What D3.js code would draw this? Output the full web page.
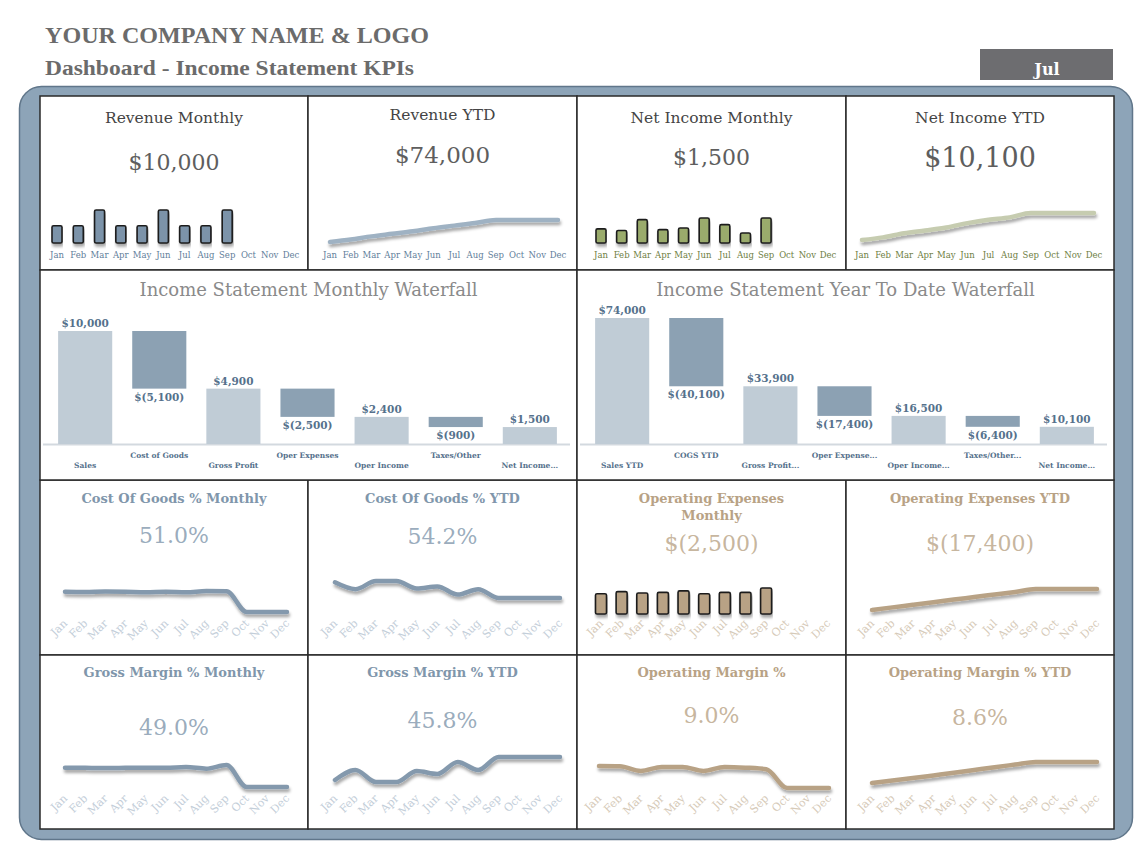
<!DOCTYPE html>
<html>
<head>
<meta charset="utf-8">
<script src="https://cdn.jsdelivr.net/npm/d3@7"></script>
<style>
  body { margin: 0; background: #fff; }
  text { font-family: "DejaVu Serif", serif; }
  .hdr { font-family: "Liberation Serif", serif; font-weight: bold; fill: #6b6b6b; }
</style>
</head>
<body>
<div id="dash"></div>
<script>
// months and series
var months = ["Jan","Feb","Mar","Apr","May","Jun","Jul","Aug","Sep","Oct","Nov","Dec"];

var revenueMonthly   = [10000,10000,12000,10000,10000,12000,10000,10000,12000,null,null,null];
var revenueYtd       = [10000,20000,32000,42000,52000,64000,74000,84000,96000,96000,96000,96000];
var netIncomeMonthly = [1250,1150,1800,1200,1300,1900,1500,1000,1900,null,null,null];
var netIncomeYtd     = [1250,2400,4200,5400,6700,8600,10100,11100,13000,13000,13000,13000];

var cogsPctMonthly   = [52.5,52,53,52.5,51.5,52.5,51,54.5,54,0,0,0];
var cogsPctYtd       = [56.0,55.0,56.2,56.2,55.1,55.4,54.2,55.0,53.7,53.7,53.7,53.7];
var opexMonthly      = [2400,2550,2450,2500,2600,2400,2500,2500,2800,null,null,null];
var opexYtd          = [2400,4950,7400,9900,12500,14900,17400,19900,22700,22700,22700,22700];

var grossPctMonthly  = [47.5,47,46.5,47,47.5,47,49,45,54,0,0,0];
var grossPctYtd      = [44.0,45.0,43.8,43.8,44.9,44.6,45.8,45.0,46.3,46.3,46.3,46.3];
var opMarginMonthly  = [9.4,9.3,7.3,9.0,9.0,7.3,9.0,8.7,8.0,0,0,0];
var opMarginYtd      = [1.3,2.5,3.6,4.8,6.0,7.3,8.6,9.8,11.0,11.0,11.0,11.0];

// waterfalls
var wfMonthCats = ["Sales","Cost of Goods","Gross Profit","Oper Expenses","Oper Income","Taxes/Other","Net Income..."];
var wfMonthVals = [10000,-5100,4900,-2500,2400,-900,1500];
var wfYtdCats   = ["Sales YTD","COGS YTD","Gross Profit...","Oper Expense...","Oper Income...","Taxes/Other...","Net Income..."];
var wfYtdVals   = [74000,-40100,33900,-17400,16500,-6400,10100];
var wfIsTotal   = [true,false,true,false,true,false,true];

// grid
var colX = [40, 308, 577, 846, 1114];
var rowY = [96, 270, 480, 655, 829];

var blueDark = "#7b93a9", blueTick = "#5f7e9a", blueLine = "#8499ad", blueLight = "#9fb2c3";
var tan = "#b8a285", tanLight = "#d6cab8", olive = "#9aab6c", oliveTick = "#6e7e3f";

var svg = d3.select("#dash").append("svg")
  .attr("width", 1140)
  .attr("height", 847);

var defs = svg.append("defs");
var sh = defs.append("filter").attr("id", "shadow")
  .attr("x", "-10%").attr("y", "-60%").attr("width", "120%").attr("height", "260%");
sh.append("feDropShadow").attr("dx", 1).attr("dy", 3).attr("stdDeviation", 1.6)
  .attr("flood-color", "#000").attr("flood-opacity", 0.35);

// header
svg.append("text").attr("class", "hdr").attr("x", 45).attr("y", 43)
  .attr("font-size", 23).attr("textLength", 384).attr("lengthAdjust", "spacingAndGlyphs")
  .text("YOUR COMPANY NAME & LOGO");
svg.append("text").attr("class", "hdr").attr("x", 45).attr("y", 75)
  .attr("font-size", 20).attr("textLength", 369).attr("lengthAdjust", "spacingAndGlyphs")
  .text("Dashboard - Income Statement KPIs");

svg.append("rect").attr("x", 980).attr("y", 49).attr("width", 133).attr("height", 31)
  .attr("fill", "#6d6d70");
svg.append("text").attr("x", 1047).attr("y", 75).attr("text-anchor", "middle")
  .attr("font-family", "Liberation Serif").attr("font-weight", "bold")
  .attr("font-size", 16).attr("fill", "#fff").text("Jul");

// frame
svg.append("rect")
  .attr("x", 19.5).attr("y", 86.5).attr("width", 1113).attr("height", 753).attr("rx", 22)
  .attr("fill", "#8da4b8").attr("stroke", "#60768a").attr("stroke-width", 1.5);

// small panels
var panels = [
  {col:0,row:0,title:["Revenue Monthly"],value:"$10,000",kind:"bar",data:revenueMonthly,domain:[7800,12000],band:[147,114],xr:[17,251],fill:blueDark,tick:blueTick,titleY:27,valueY:74,valueSize:22},
  {col:1,row:0,title:["Revenue YTD"],value:"$74,000",kind:"line",data:revenueYtd,band:[146,124],xr:[22,250],stroke:blueLight,tick:blueTick,titleY:24,valueY:67,valueSize:23},
  {col:2,row:0,title:["Net Income Monthly"],value:"$1,500",kind:"bar",data:netIncomeMonthly,domain:[400,1900],band:[147,122],xr:[24,251],fill:olive,tick:oliveTick,titleY:27,valueY:69,valueSize:22},
  {col:3,row:0,title:["Net Income YTD"],value:"$10,100",kind:"line",data:netIncomeYtd,band:[144,117],xr:[16,248],stroke:"#c6ccb0",tick:oliveTick,titleY:27,valueY:71,valueSize:27},

  {col:0,row:2,title:["Cost Of Goods % Monthly"],value:"51.0%",kind:"line",data:cogsPctMonthly,zero:true,band:[132,111],xr:[25,247],stroke:blueLine,tick:"#c3ced9",color:"#8096ab",titleY:23,valueY:63},
  {col:1,row:2,title:["Cost Of Goods % YTD"],value:"54.2%",kind:"line",data:cogsPctYtd,band:[118,101],xr:[27,252],stroke:blueLine,tick:"#c3ced9",color:"#8096ab",titleY:23,valueY:64},
  {col:2,row:2,title:["Operating Expenses","Monthly"],value:"$(2,500)",kind:"bar",data:opexMonthly,domain:[1000,2800],band:[134,108],xr:[24,251],fill:tan,tick:tanLight,color:tan,titleY:23,valueY:71,barW:11},
  {col:3,row:2,title:["Operating Expenses YTD"],value:"$(17,400)",kind:"line",data:opexYtd,band:[130,109],xr:[26,251],stroke:tan,tick:tanLight,color:tan,titleY:23,valueY:71},

  {col:0,row:3,title:["Gross Margin % Monthly"],value:"49.0%",kind:"line",data:grossPctMonthly,zero:true,band:[132,110],xr:[25,247],stroke:blueLine,tick:"#c3ced9",color:"#8096ab",titleY:22,valueY:80},
  {col:1,row:3,title:["Gross Margin % YTD"],value:"45.8%",kind:"line",data:grossPctYtd,band:[127,102],xr:[27,252],stroke:blueLine,tick:"#c3ced9",color:"#8096ab",titleY:22,valueY:73},
  {col:2,row:3,title:["Operating Margin %"],value:"9.0%",kind:"line",data:opMarginMonthly,zero:true,band:[133,111],xr:[22,252],stroke:tan,tick:tanLight,color:tan,titleY:22,valueY:68},
  {col:3,row:3,title:["Operating Margin % YTD"],value:"8.6%",kind:"line",data:opMarginYtd,band:[128,107],xr:[26,251],stroke:tan,tick:tanLight,color:tan,titleY:22,valueY:70}
];

function drawPanel(p) {
  var x0 = colX[p.col], y0 = rowY[p.row];
  var w = colX[p.col + 1] - x0, h = rowY[p.row + 1] - y0;
  var g = svg.append("g").attr("transform", "translate(" + x0 + "," + y0 + ")");
  g.append("rect").attr("width", w).attr("height", h)
    .attr("fill", "#fff").attr("stroke", "#2a2a2a").attr("stroke-width", 1.5);

  var top = p.row == 0;
  var t = g.append("text").attr("text-anchor", "middle")
    .attr("font-size", top ? 15.5 : 13)
    .attr("font-weight", top ? "normal" : "bold")
    .attr("fill", top ? "#444" : p.color);
  p.title.forEach(function(s, i) {
    t.append("tspan").attr("x", w / 2).attr("y", p.titleY + i * 17).text(s);
  });
  g.append("text").attr("text-anchor", "middle").attr("x", w / 2).attr("y", p.valueY)
    .attr("font-size", p.valueSize || 22)
    .attr("fill", top ? "#5e5e5e" : p.color).attr("fill-opacity", top ? 1 : 0.8)
    .text(p.value);

  var xScale = d3.scalePoint().domain(months).range(p.xr);
  var vals = p.data.filter(function(d) { return d != null; });
  var dom = p.domain || (p.zero ? [0, d3.max(vals)] : d3.extent(vals));
  var yScale = d3.scaleLinear().domain(dom).range(p.band);

  if (p.kind == "bar") {
    var bw = p.barW || 10;
    g.selectAll("rect.spark").data(months.filter(function(m, i) { return p.data[i] != null; }))
      .enter().append("rect").attr("class", "spark")
      .attr("x", function(m) { return xScale(m) - bw / 2; })
      .attr("y", function(m) { return yScale(p.data[months.indexOf(m)]); })
      .attr("width", bw)
      .attr("height", function(m) { return p.band[0] - yScale(p.data[months.indexOf(m)]); })
      .attr("rx", 1.5)
      .attr("fill", p.fill).attr("stroke", "#1e1e1e").attr("stroke-width", 1.6)
      .attr("filter", "url(#shadow)");
  } else {
    var line = d3.line()
      .x(function(d, i) { return xScale(months[i]); })
      .y(function(d) { return yScale(d); })
      .curve(d3.curveMonotoneX);
    g.append("path").datum(p.data).attr("d", line)
      .attr("fill", "none").attr("stroke", p.stroke).attr("stroke-width", 4.5)
      .attr("stroke-linecap", "round").attr("filter", "url(#shadow)");
  }

  if (top) {
    g.selectAll("text.mo").data(months).enter().append("text").attr("class", "mo")
      .attr("x", function(m) { return xScale(m); }).attr("y", 162)
      .attr("text-anchor", "middle").attr("font-size", 8.5).attr("fill", p.tick)
      .text(function(m) { return m; });
  } else {
    g.selectAll("text.mo").data(months).enter().append("text").attr("class", "mo")
      .attr("transform", function(m) { return "translate(" + (xScale(m) + 3) + "," + 144 + ")rotate(-45)"; })
      .attr("text-anchor", "end").attr("font-size", 11).attr("fill", p.tick)
      .text(function(m) { return m; });
  }
}
panels.forEach(drawPanel);

// waterfalls
var fmtNum = d3.format(",");
function money(v) { return v < 0 ? "$(" + fmtNum(-v) + ")" : "$" + fmtNum(v); }

function drawWaterfall(col0, col1, title, cats, vals, topY) {
  var x0 = colX[col0], y0 = rowY[1];
  var w = colX[col1] - x0, h = rowY[2] - y0;
  var g = svg.append("g").attr("transform", "translate(" + x0 + "," + y0 + ")");
  g.append("rect").attr("width", w).attr("height", h)
    .attr("fill", "#fff").attr("stroke", "#2a2a2a").attr("stroke-width", 1.5);
  g.append("text").attr("x", w / 2).attr("y", 26).attr("text-anchor", "middle")
    .attr("font-size", 18).attr("fill", "#8a8a8a").text(title);

  var xScale = d3.scaleBand().domain(cats).range([7, 528]).paddingInner(0.27).paddingOuter(0.15);
  var yScale = d3.scaleLinear().domain([0, vals[0]]).range([174, topY]);

  var run = 0;
  var steps = vals.map(function(v, i) {
    var a, b;
    if (wfIsTotal[i]) { a = 0; b = v; run = v; }
    else { a = run; b = run + v; run = b; }
    return {cat: cats[i], v: v, lo: Math.min(a, b), hi: Math.max(a, b), total: wfIsTotal[i]};
  });

  g.append("line").attr("x1", 3).attr("x2", 530).attr("y1", 174.5).attr("y2", 174.5)
    .attr("stroke", "#d3d9df").attr("stroke-width", 2);

  g.selectAll("rect.wf").data(steps).enter().append("rect").attr("class", "wf")
    .attr("x", function(d) { return xScale(d.cat); })
    .attr("y", function(d) { return yScale(d.hi); })
    .attr("width", xScale.bandwidth())
    .attr("height", function(d) { return yScale(d.lo) - yScale(d.hi); })
    .attr("fill", function(d) { return d.total ? "#c0ccd6" : "#8ca1b3"; });

  g.selectAll("text.wv").data(steps).enter().append("text").attr("class", "wv")
    .attr("x", function(d) { return xScale(d.cat) + xScale.bandwidth() / 2; })
    .attr("y", function(d) { return d.total ? yScale(d.hi) - 4 : yScale(d.lo) + 12; })
    .attr("text-anchor", "middle").attr("font-size", 10.5).attr("font-weight", "bold")
    .attr("fill", "#55718c")
    .text(function(d) { return money(d.v); });

  g.selectAll("text.wc").data(steps).enter().append("text").attr("class", "wc")
    .attr("x", function(d) { return xScale(d.cat) + xScale.bandwidth() / 2; })
    .attr("y", function(d, i) { return i % 2 ? 188 : 198; })
    .attr("text-anchor", "middle").attr("font-size", 7.5).attr("font-weight", "bold")
    .attr("fill", "#55718c")
    .text(function(d) { return d.cat; });
}
drawWaterfall(0, 2, "Income Statement Monthly Waterfall", wfMonthCats, wfMonthVals, 61);
drawWaterfall(2, 4, "Income Statement Year To Date Waterfall", wfYtdCats, wfYtdVals, 48);
</script>
</body>
</html>
